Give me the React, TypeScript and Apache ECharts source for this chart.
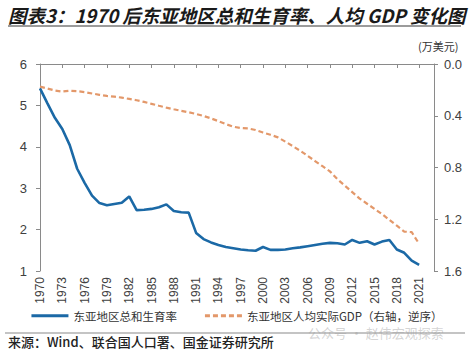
import React, { useEffect, useRef } from "react";
import * as echarts from "echarts";

const years: string[] = [];
for (let y = 1970; y <= 2023; y++) years.push(String(y));

const tfr: (number | null)[] = [
  5.41, 5.05, 4.70, 4.43, 4.04, 3.47, 3.13, 2.82, 2.64, 2.59,
  2.62, 2.65, 2.80, 2.47, 2.48, 2.50, 2.54, 2.61, 2.45, 2.42,
  2.41, 1.92, 1.77, 1.69, 1.63, 1.58, 1.55, 1.52, 1.50, 1.49,
  1.58, 1.51, 1.51, 1.52, 1.55, 1.57, 1.60, 1.63, 1.66, 1.68,
  1.67, 1.64, 1.75, 1.68, 1.72, 1.64, 1.71, 1.75, 1.52, 1.44,
  1.25, 1.15, null, null,
];

const gdp: (number | null)[] = [
  0.175, 0.19, 0.205, 0.213, 0.207, 0.21, 0.217, 0.228, 0.238, 0.247,
  0.252, 0.26, 0.27, 0.28, 0.293, 0.308, 0.323, 0.337, 0.35, 0.362,
  0.373, 0.386, 0.402, 0.42, 0.442, 0.465, 0.485, 0.495, 0.498, 0.51,
  0.53, 0.547, 0.567, 0.60, 0.635, 0.67, 0.71, 0.75, 0.79, 0.83,
  0.89, 0.94, 0.99, 1.04, 1.08, 1.12, 1.16, 1.205, 1.25, 1.295,
  1.30, 1.39, null, null,
];

const seriesNames = ["东亚地区总和生育率", "东亚地区人均实际GDP（右轴，逆序）"];
const titleText = "图表3：1970 后东亚地区总和生育率、人均 GDP 变化图";
const sourceText = "来源：Wind、联合国人口署、国金证券研究所";
const unitText = "(万美元)";
const watermarkText = "公众号 · 赵伟宏观探索";

const solidIcon = "path://M0,0h37v3h-37z";
const dashIcon =
  "path://M0,0h5v3h-5z M8,0h5v3h-5z M16,0h5v3h-5z M24,0h5v3h-5z M32,0h5v3h-5z";

export default function App() {
  const ref = useRef<HTMLDivElement>(null);
  useEffect(() => {
    if (!ref.current) return;
    const chart = echarts.init(ref.current, undefined, { renderer: "svg" });
    const axisColor = "#8a8a8a";
    const labelColor = "#404040";
    chart.setOption({
      animation: false,
      backgroundColor: "#ffffff",
      grid: { left: 40, right: 40, top: 64, bottom: 82, containLabel: false },
      xAxis: {
        type: "category",
        data: years,
        boundaryGap: false,
        axisLine: { lineStyle: { color: axisColor, width: 1 } },
        axisTick: { interval: 2, length: 4, lineStyle: { color: axisColor } },
        axisLabel: {
          interval: 2,
          rotate: 90,
          color: labelColor,
          fontSize: 12,
          fontFamily: "Liberation Sans",
          margin: 6,
        },
        splitLine: { show: false },
      },
      yAxis: [
        {
          type: "value",
          min: 1,
          max: 6,
          interval: 1,
          axisLine: { show: true, lineStyle: { color: axisColor } },
          axisTick: { show: true, length: 4, lineStyle: { color: axisColor } },
          axisLabel: { color: labelColor, fontSize: 13, fontFamily: "Liberation Sans", margin: 13 },
          splitLine: { show: false },
        },
        {
          type: "value",
          min: 0,
          max: 1.6,
          interval: 0.4,
          inverse: true,
          axisLine: { show: true, lineStyle: { color: axisColor } },
          axisTick: { show: true, length: 4, lineStyle: { color: axisColor } },
          axisLabel: {
            color: labelColor,
            fontSize: 13,
            fontFamily: "Liberation Sans",
            margin: 10,
            formatter: (v: number) => v.toFixed(1),
          },
          splitLine: { show: false },
        },
      ],
      legend: {
        top: 305,
        left: "center",
        itemWidth: 37,
        itemHeight: 3,
        itemGap: 28,
        symbolKeepAspect: false,
        textStyle: { color: "#333", fontSize: 11.5, fontFamily: "Noto Sans CJK SC" },
        data: [
          { name: seriesNames[0], icon: solidIcon },
          { name: seriesNames[1], icon: dashIcon },
        ],
      },
      series: [
        {
          name: seriesNames[0],
          type: "line",
          data: tfr,
          yAxisIndex: 0,
          symbol: "none",
          smooth: false,
          lineStyle: { color: "#1b69a6", width: 2.6 },
          itemStyle: { color: "#1b69a6" },
        },
        {
          name: seriesNames[1],
          type: "line",
          data: gdp,
          yAxisIndex: 1,
          symbol: "none",
          lineStyle: { color: "#e3986a", width: 2.2, type: [5, 3] },
          itemStyle: { color: "#e3986a" },
        },
      ],
      graphic: [
        {
          type: "text",
          left: 8,
          top: 6,
          style: {
            text: titleText,
            fontSize: 18.5,
            fontWeight: "bold",
            fontStyle: "italic",
            fontFamily: "Noto Sans CJK SC",
            fill: "#1a1a1a",
          },
        },
        {
          type: "line",
          shape: { x1: 8, y1: 26, x2: 461, y2: 26 },
          style: { stroke: "#7a7a7a", lineWidth: 1.5 },
        },
        {
          type: "text",
          left: 418,
          top: 40,
          style: {
            text: unitText,
            fontSize: 11,
            fontFamily: "Noto Sans CJK SC",
            fill: "#333",
          },
        },
        {
          type: "line",
          shape: { x1: 5, y1: 333, x2: 465, y2: 333 },
          style: { stroke: "#8a8a8a", lineWidth: 1.2 },
        },
        {
          type: "text",
          left: 308,
          top: 326,
          style: {
            text: watermarkText,
            fontSize: 13,
            fontFamily: "Noto Sans CJK SC",
            fill: "rgba(160,160,160,0.45)",
          },
        },
        {
          type: "text",
          left: 8,
          top: 335,
          style: {
            text: sourceText,
            fontSize: 13,
            fontWeight: 500,
            fontFamily: "Noto Sans CJK SC",
            fill: "#222",
          },
        },
      ],
    });
    return () => chart.dispose();
  }, []);
  return (
    <div
      ref={ref}
      style={{ position: "fixed", left: 0, top: 0, width: 474, height: 353, background: "#fff" }}
    />
  );
}
